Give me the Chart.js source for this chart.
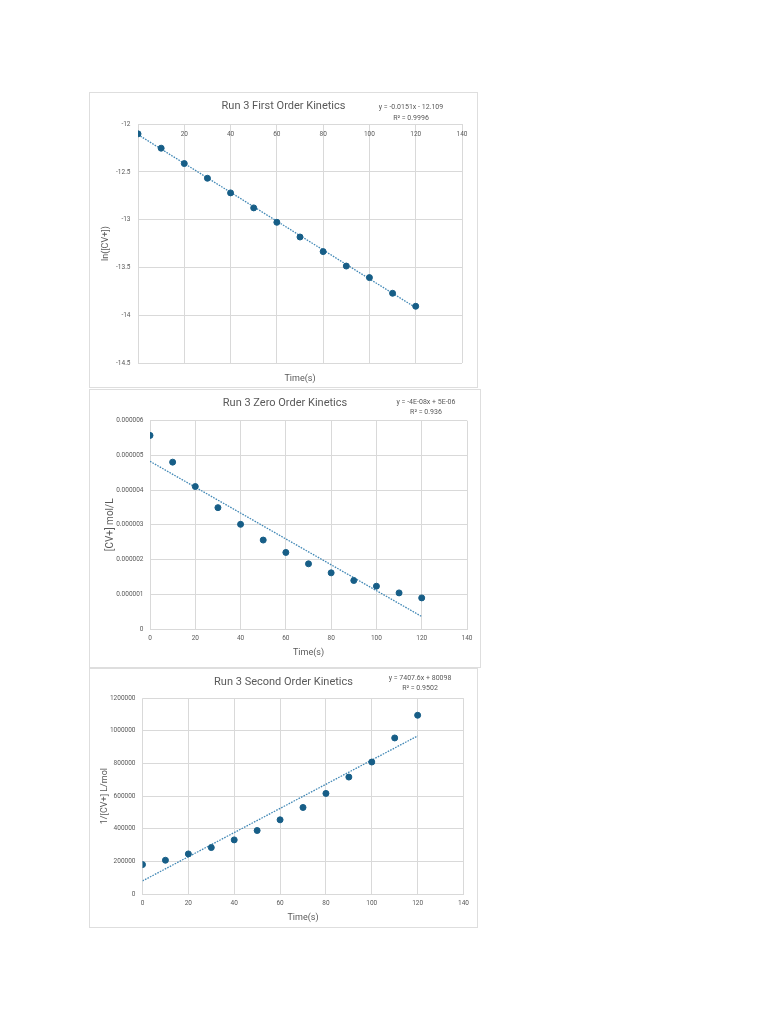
<!DOCTYPE html>
<html>
<head>
<meta charset="utf-8">
<title>Run 3 Kinetics</title>
<script src="https://cdn.jsdelivr.net/npm/chart.js@4.4.1/dist/chart.umd.min.js"></script>
<style>
  html, body { margin: 0; padding: 0; background: #fff; }
  body { width: 768px; height: 1024px; position: relative; overflow: hidden; }
  .panel { position: absolute; border: 1px solid #dedede; background: #fff; }
  .panel canvas { display: block; }
  #p1 { left: 89px; top: 92px; width: 387px; height: 294px; }
  #p2 { left: 89px; top: 389px; width: 390px; height: 277px; }
  #p3 { left: 89px; top: 668px; width: 387px; height: 258px; }
</style>
</head>
<body>
<div class="panel" id="p1"><canvas id="firstOrder"></canvas></div>
<div class="panel" id="p2"><canvas id="zeroOrder"></canvas></div>
<div class="panel" id="p3"><canvas id="secondOrder"></canvas></div>

<script>
// ---- data -----------------------------------------------------------------
const timeS   = [0, 10, 20, 30, 40, 50, 60, 70, 80, 90, 100, 110, 120];

// ln([CV+])
const lnCV    = [-12.101, -12.251, -12.412, -12.566, -12.719, -12.876, -13.027,
                 -13.181, -13.334, -13.485, -13.606, -13.770, -13.906];
// [CV+] mol/L
const cvMolL  = [5.576e-6, 4.806e-6, 4.103e-6, 3.496e-6, 3.015e-6, 2.562e-6, 2.205e-6,
                 1.878e-6, 1.618e-6, 1.397e-6, 1.233e-6, 1.040e-6, 0.896e-6];
// 1/[CV+] L/mol
const invCV   = [180200, 206800, 245700, 284600, 331700, 389000, 454600,
                 530300, 616400, 716700, 808800, 956300, 1095500];

// trendline end points (x = 0 and x = 120)
const trendX      = [0, 120];
const lnTrendY    = [-12.109, -13.921];
const cvTrendY    = [4.83e-6, 0.36e-6];
const invTrendY   = [80098, 968998];

// trendline labels
const lnEq   = ["y = -0.0151x - 12.109", "R² = 0.9996"];
const cvEq   = ["y = -4E-08x + 5E-06",   "R² = 0.936"];
const invEq  = ["y = 7407.6x + 80098",   "R² = 0.9502"];

// axis ranges / tick steps
const timeMin = 0, timeMax = 140, timeStep = 20;
const lnMin = -14.5, lnMax = -12, lnStep = 0.5;
const cvMin = 0, cvMax = 0.000006, cvStep = 0.000001;
const invMin = 0, invMax = 1200000, invStep = 200000;

// ---- shared styling ---------------------------------------------------------
const FONT = "Roboto, 'Liberation Sans', sans-serif";
const GREY = "#595959";
const GRID = "#d9d9d9";
const DOT  = "#175e87";
const TREND = "#4389b6";

Chart.defaults.font.family = FONT;
Chart.defaults.color = GREY;
Chart.defaults.animation = false;

const toXY = (xs, ys) => xs.map((x, i) => ({ x: x, y: ys[i] }));

// little plugin for the trendline equation text in the top-right corner
const eqLabel = {
  id: "eqLabel",
  afterDraw(chart, args, opts) {
    const ctx = chart.ctx;
    ctx.save();
    ctx.font = "7px " + FONT;
    ctx.fillStyle = GREY;
    ctx.textAlign = "center";
    ctx.textBaseline = "middle";
    opts.lines.forEach((t, i) => ctx.fillText(t, opts.x, opts.y[i]));
    ctx.restore();
  }
};

function makeChart(id, cfg) {
  const datasets = [
    {
      label: "data",
      data: toXY(timeS, cfg.values),
      pointRadius: 3,
      pointHoverRadius: 3,
      pointBackgroundColor: DOT,
      pointBorderColor: DOT,
      showLine: false
    },
    {
      label: "trend",
      data: toXY(trendX, cfg.trend),
      showLine: true,
      pointRadius: 0,
      borderColor: TREND,
      borderWidth: 1.3,
      borderDash: [1.6, 1.2],
      fill: false
    }
  ];

  const xScale = {
    type: "linear",
    min: timeMin, max: timeMax,
    position: cfg.xPos,
    ticks: {
      stepSize: timeStep,
      font: { size: 6.5 },
      color: GREY,
      padding: cfg.xTickPad,
      maxRotation: 0,
      callback: (v) => (cfg.hideZero && v === 0) ? "" : String(v)
    },
    grid: { color: GRID, lineWidth: 1, drawTicks: false },
    border: { display: true, color: GRID },
    title: {
      display: !cfg.separateXTitle,
      text: "Time(s)",
      font: { size: 9 },
      color: GREY,
      padding: { top: 0, bottom: cfg.xTitlePad }
    },
    afterFit: (s) => { if (!cfg.separateXTitle) s.height = cfg.bottom; }
  };

  const scales = {
    x: xScale,
    y: {
      type: "linear",
      min: cfg.yMin, max: cfg.yMax,
      ticks: {
        stepSize: cfg.yStep,
        font: { size: 6.5 },
        color: GREY,
        padding: cfg.yTickPad,
        callback: cfg.yFmt
      },
      grid: { color: GRID, lineWidth: 1, drawTicks: false },
      border: { display: false },
      title: {
        display: true,
        text: cfg.yTitle,
        font: { size: cfg.yTitleSize },
        color: GREY,
        padding: { top: cfg.yTitlePad, bottom: 0 }
      },
      afterFit: (s) => { s.width = cfg.left; }
    },
    // empty right axis, only reserves the gap on the right of the plot
    ySpace: {
      type: "linear",
      position: "right",
      min: cfg.yMin, max: cfg.yMax,
      ticks: { display: false },
      grid: { display: false, drawTicks: false },
      border: { display: false },
      afterFit: (s) => { s.width = cfg.right; }
    }
  };

  if (cfg.separateXTitle) {
    // an empty bottom axis that only carries the "Time(s)" title
    scales.xTitle = {
      type: "linear",
      position: "bottom",
      min: timeMin, max: timeMax,
      ticks: { display: false },
      grid: { display: false, drawTicks: false },
      border: { display: false },
      title: {
        display: true,
        text: "Time(s)",
        font: { size: 9 },
        color: GREY,
        padding: { top: 0, bottom: cfg.xTitlePad }
      },
      afterFit: (s) => { s.height = cfg.bottom; }
    };
  }

  return new Chart(document.getElementById(id), {
    type: "scatter",
    data: { datasets: datasets },
    options: {
      responsive: true,
      maintainAspectRatio: false,
      layout: { padding: 0 },
      scales: scales,
      plugins: {
        legend: { display: false },
        tooltip: { enabled: false },
        title: {
          display: true,
          text: cfg.title,
          font: { size: 11, weight: "normal" },
          color: GREY,
          padding: { top: cfg.titleTop, bottom: cfg.titleBottom }
        },
        eqLabel: { lines: cfg.eq, x: cfg.eqX, y: cfg.eqY }
      }
    },
    plugins: [eqLabel]
  });
}

// ---- Run 3 First Order ------------------------------------------------------
makeChart("firstOrder", {
  title: "Run 3 First Order Kinetics",
  values: lnCV, trend: lnTrendY,
  yMin: lnMin, yMax: lnMax, yStep: lnStep,
  yFmt: (v) => String(v),
  yTitle: "ln([CV+])", yTitleSize: 9, yTitlePad: 10,
  xPos: { y: lnMax }, hideZero: true, separateXTitle: true,
  left: 48, right: 15, bottom: 24,
  titleTop: 7, titleBottom: 11,
  xTickPad: 6.5, yTickPad: 7.5, xTitlePad: 2.5,
  eq: lnEq, eqX: 321, eqY: [14, 25]
});

// ---- Run 3 Zero Order -------------------------------------------------------
makeChart("zeroOrder", {
  title: "Run 3 Zero Order Kinetics",
  values: cvMolL, trend: cvTrendY,
  yMin: cvMin, yMax: cvMax, yStep: cvStep,
  yFmt: (v) => v === 0 ? "0" : v.toFixed(6),
  yTitle: "[CV+] mol/L", yTitleSize: 10, yTitlePad: 14,
  xPos: "bottom", hideZero: false, separateXTitle: false,
  left: 60, right: 13, bottom: 38,
  titleTop: 6.5, titleBottom: 11,
  xTickPad: 5.5, yTickPad: 6.5, xTitlePad: 9,
  eq: cvEq, eqX: 336, eqY: [12, 22]
});

// ---- Run 3 Second Order -----------------------------------------------------
makeChart("secondOrder", {
  title: "Run 3 Second Order Kinetics",
  values: invCV, trend: invTrendY,
  yMin: invMin, yMax: invMax, yStep: invStep,
  yFmt: (v) => String(v),
  yTitle: "1/[CV+] L/mol", yTitleSize: 9, yTitlePad: 9.5,
  xPos: "bottom", hideZero: false, separateXTitle: false,
  left: 52.5, right: 13.5, bottom: 33,
  titleTop: 6.5, titleBottom: 9.5,
  xTickPad: 5.5, yTickPad: 7, xTitlePad: 3.5,
  eq: invEq, eqX: 330, eqY: [9.5, 19]
});
</script>
</body>
</html>
